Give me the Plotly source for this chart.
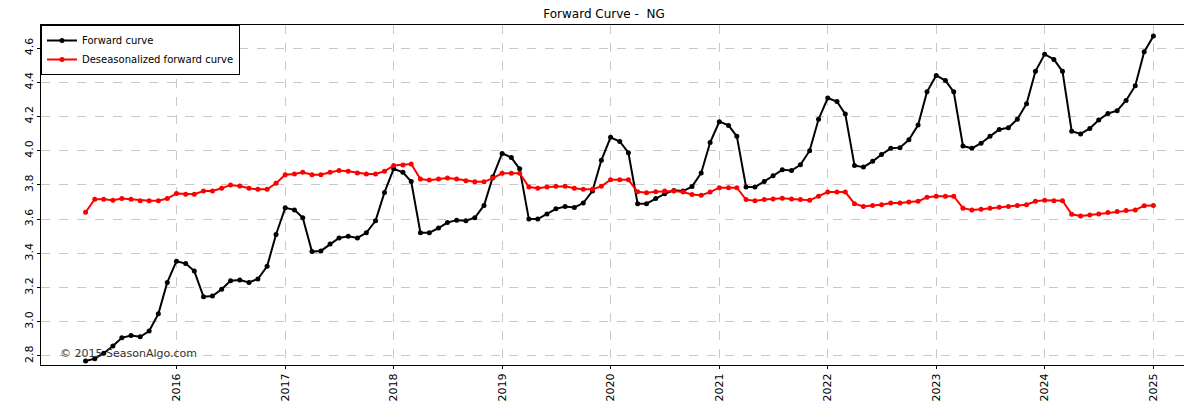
import pandas as pd
import plotly.graph_objects as go

start_month = "2015-03-01"
forward = [
    2.77, 2.784, 2.816, 2.858, 2.906, 2.92, 2.912, 2.946, 3.046, 3.23,
    3.354, 3.34, 3.296, 3.146, 3.15, 3.19, 3.24, 3.244, 3.23, 3.25, 3.324, 3.51,
    3.666, 3.654, 3.608, 3.41, 3.414, 3.454, 3.49, 3.5, 3.49, 3.52, 3.59, 3.756,
    3.894, 3.874, 3.82, 3.52, 3.52, 3.548, 3.58, 3.594, 3.59, 3.608, 3.68, 3.848,
    3.984, 3.96, 3.894, 3.6, 3.6, 3.63, 3.66, 3.674, 3.668, 3.694, 3.764, 3.944,
    4.078, 4.054, 3.988, 3.69, 3.69, 3.72, 3.748, 3.768, 3.764, 3.79, 3.87, 4.048,
    4.17, 4.148, 4.084, 3.788, 3.788, 3.82, 3.854, 3.888, 3.884, 3.918, 4.0, 4.184,
    4.308, 4.288, 4.214, 3.914, 3.904, 3.938, 3.978, 4.014, 4.018, 4.064, 4.15, 4.344,
    4.44, 4.41, 4.344, 4.028, 4.014, 4.044, 4.084, 4.124, 4.134, 4.184, 4.274, 4.464,
    4.564, 4.534, 4.464, 4.114, 4.098, 4.13, 4.18, 4.218, 4.234, 4.294, 4.38, 4.578,
    4.67,
]
deseasonalized = [
    3.64, 3.716, 3.716, 3.71, 3.72, 3.716, 3.708, 3.708, 3.708, 3.72,
    3.75, 3.746, 3.746, 3.764, 3.764, 3.78, 3.8, 3.794, 3.78, 3.774, 3.774, 3.81,
    3.86, 3.864, 3.874, 3.86, 3.86, 3.874, 3.884, 3.88, 3.87, 3.864, 3.864, 3.88,
    3.914, 3.916, 3.922, 3.834, 3.828, 3.834, 3.84, 3.834, 3.824, 3.818, 3.818, 3.84,
    3.868, 3.868, 3.868, 3.788, 3.78, 3.788, 3.792, 3.792, 3.78, 3.774, 3.774, 3.792,
    3.83, 3.83, 3.83, 3.76, 3.754, 3.76, 3.764, 3.764, 3.758, 3.744, 3.74, 3.758,
    3.784, 3.784, 3.784, 3.714, 3.708, 3.714, 3.718, 3.722, 3.718, 3.714, 3.71, 3.734,
    3.758, 3.758, 3.758, 3.69, 3.674, 3.68, 3.684, 3.694, 3.694, 3.7, 3.704, 3.728,
    3.734, 3.734, 3.734, 3.664, 3.654, 3.658, 3.664, 3.67, 3.674, 3.68, 3.684, 3.704,
    3.71, 3.708, 3.708, 3.628, 3.618, 3.624, 3.63, 3.638, 3.644, 3.65, 3.654, 3.678,
    3.68,
]
year_ticks = [f"{y}-01-01" for y in range(2016, 2026)]
year_labels = [str(y) for y in range(2016, 2026)]
y_ticks = [2.8, 3.0, 3.2, 3.4, 3.6, 3.8, 4.0, 4.2, 4.4, 4.6]

dates = pd.date_range(start_month, periods=len(forward), freq="MS")

fig = go.Figure()
fig.add_trace(go.Scatter(x=dates, y=forward, mode="lines+markers", name="Forward curve",
                         line=dict(color="black", width=2), marker=dict(size=5, color="black")))
fig.add_trace(go.Scatter(x=dates, y=deseasonalized, mode="lines+markers", name="Deseasonalized forward curve",
                         line=dict(color="red", width=2), marker=dict(size=5, color="red")))

axis_common = dict(showline=True, linecolor="black", linewidth=1, mirror=True,
                   showgrid=True, gridcolor="#c8c8c8", griddash="dash", zeroline=False,
                   ticks="outside", ticklen=3, tickcolor="black", automargin=False,
                   tickfont=dict(family="DejaVu Sans", size=11, color="black"))
fig.update_xaxes(range=["2014-10-02", "2025-05-21"], tickvals=year_ticks, ticktext=year_labels,
                 tickangle=-90, **axis_common)
fig.update_yaxes(range=[2.747, 4.735], tickvals=y_ticks, ticktext=[f"{v:.1f}" for v in y_ticks],
                 tickangle=-90, **axis_common)
fig.update_layout(
    width=1192, height=405,
    margin=dict(l=33, r=5, t=17, b=48),
    paper_bgcolor="white", plot_bgcolor="white",
    title=dict(text="Forward Curve -  NG", x=0.5, xanchor="center", y=0.995, yanchor="top",
               font=dict(family="DejaVu Sans", size=12, color="black")),
    font=dict(family="DejaVu Sans", size=11, color="black"),
    legend=dict(x=0.0, y=1.0, xanchor="left", yanchor="top", bgcolor="white",
                bordercolor="black", borderwidth=1, font=dict(size=10), tracegroupgap=0,
                itemwidth=30),
    showlegend=True,
)
fig.add_annotation(text="© 2015 SeasonAlgo.com", xref="paper", yref="paper", x=0.015, y=0.01,
                   xanchor="left", yanchor="bottom", showarrow=False,
                   font=dict(family="DejaVu Sans", size=11, color="#333333"))
fig.write_html("out.html")
